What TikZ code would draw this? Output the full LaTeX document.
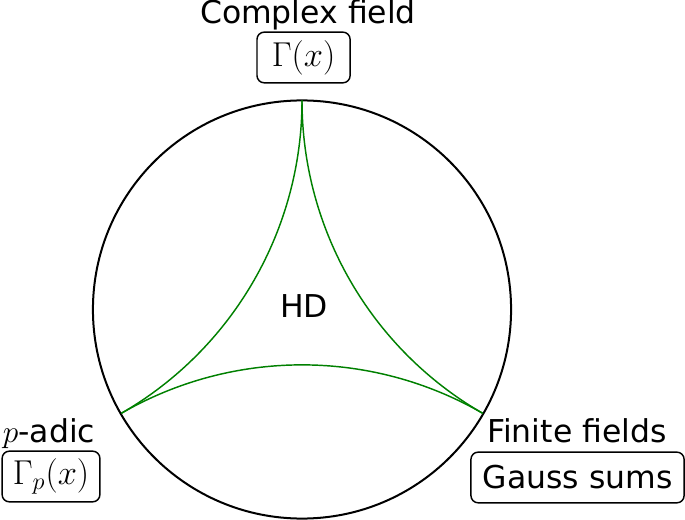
\documentclass[tikz,border=0pt]{standalone}
\usepackage{fix-cm}
\usepackage[no-math]{fontspec}
\setmainfont{DejaVu Sans}
\definecolor{geodgreen}{RGB}{0,128,0}
\begin{document}
\begin{tikzpicture}[every node/.style={font=\fontsize{17.3}{21}\selectfont, inner sep=0pt},
  fieldbox/.style={draw, thick, rounded corners=4pt, minimum height=0.98cm},
  mathbox/.style={fieldbox, font=\fontsize{19}{23}\selectfont},
  geodesic/.style={geodgreen, line width=0.8pt}]
\useasboundingbox (-5.836,-4.077) rectangle (7.401,5.971);
% Disk and ideal triangle
\draw[line width=1.1pt] (0,-0.01) circle (4.04);
\coordinate (vC) at (90:4.03);
\coordinate (vP) at (210:4.03);
\coordinate (vF) at (330:4.03);
\draw[geodesic] (vP) arc[start angle=300, end angle=360, radius={4.03*sqrt(3)}];
\draw[geodesic] (vC) arc[start angle=180, end angle=240, radius={4.03*sqrt(3)}];
\draw[geodesic] (vF) arc[start angle=60, end angle=120, radius={4.03*sqrt(3)}];
\node[anchor=base] (hd) at (0.039,-0.155) {HD};
% Fields at the vertices
\node[anchor=base] (cplx) at (0.116,5.507) {Complex field};
\node[mathbox, minimum width=1.8cm] (gam) at (0.03,4.86) {$\Gamma(x)$};
\node[anchor=base] (padic) at (-4.889,-2.589) {$p$-adic};
\node[mathbox, minimum width=1.89cm] (gamp) at (-4.85,-3.237) {$\Gamma_p(x)$};
\node[anchor=base] (fin) at (5.314,-2.589) {Finite fields};
\node[fieldbox, minimum width=4.12cm] (gauss) at (5.324,-3.256) {Gauss sums};
\end{tikzpicture}
\end{document}
